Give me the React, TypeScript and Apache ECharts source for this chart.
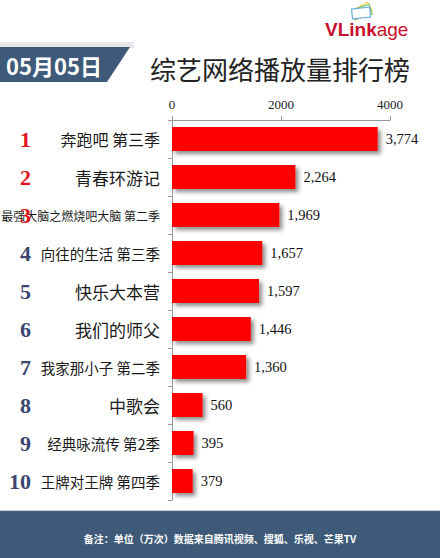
import React, { useEffect, useRef } from "react";
import * as echarts from "echarts";

const names = [
  "奔跑吧 第三季",
  "青春环游记",
  "最强大脑之燃烧吧大脑 第二季",
  "向往的生活 第三季",
  "快乐大本营",
  "我们的师父",
  "我家那小子 第二季",
  "中歌会",
  "经典咏流传 第2季",
  "王牌对王牌 第四季",
];
const nameSizes = [16, 17, 12, 14.5, 17, 17, 14.5, 17, 14.5, 14.5];
const ranks = ["1", "2", "3", "4", "5", "6", "7", "8", "9", "10"];
const values = [3774, 2264, 1969, 1657, 1597, 1446, 1360, 560, 395, 379];
const xTicks = { min: 0, max: 4000, interval: 2000 };

const title = "综艺网络播放量排行榜";
const dateText = "05月05日";
const note = "备注：单位（万次）数据来自腾讯视频、搜狐、乐视、芒果TV";

const NAVY = "#3e5a78";
const CJK = '"Noto Sans CJK SC", "Noto Sans", sans-serif';
const SERIF = '"Liberation Serif", "DejaVu Serif", serif';

export default function App() {
  const ref = useRef<HTMLDivElement>(null);
  useEffect(() => {
    if (!ref.current) return;
    const chart = echarts.init(ref.current, undefined, { renderer: "svg" });
    chart.setOption({
      animation: false,
      backgroundColor: "#ffffff",
      grid: {
        left: 172,
        top: 120,
        width: 218,
        height: 380,
        containLabel: false,
        outerBoundsMode: "none",
      },
      xAxis: {
        type: "value",
        position: "top",
        min: xTicks.min,
        max: xTicks.max,
        interval: xTicks.interval,
        axisLine: { show: true, lineStyle: { color: "#999" } },
        axisTick: { show: true, length: 4, lineStyle: { color: "#999" } },
        splitLine: { show: false },
        axisLabel: {
          color: "#222",
          fontFamily: SERIF,
          fontSize: 13,
          margin: 9,
          formatter: (v: number) => String(v),
        },
      },
      yAxis: [
        {
          type: "category",
          inverse: true,
          data: names.map((n, i) => ({ value: n, textStyle: { fontSize: nameSizes[i] } })),
          axisLine: { show: true, lineStyle: { color: "#999" } },
          axisTick: { show: true, length: 4, lineStyle: { color: "#999" } },
          axisLabel: { color: "#1a1a1a", fontFamily: CJK, margin: 12 },
        },
        {
          type: "category",
          inverse: true,
          position: "left",
          offset: 141,
          data: ranks.map((r, i) => ({
            value: r,
            textStyle: { color: i < 3 ? "#e0141e" : "#3a4670" },
          })),
          axisLine: { show: false },
          axisTick: { show: false },
          axisLabel: {
            align: "right",
            margin: 0,
            fontFamily: SERIF,
            fontWeight: "bold",
            fontSize: 22,
          },
        },
      ],
      series: [
        {
          type: "bar",
          yAxisIndex: 0,
          data: values,
          barWidth: 24,
          itemStyle: {
            color: "#ff0000",
            shadowColor: "rgba(0,0,0,0.45)",
            shadowBlur: 4,
            shadowOffsetX: 3,
            shadowOffsetY: 3,
          },
          label: {
            show: true,
            position: "right",
            distance: 8,
            color: "#111",
            fontFamily: SERIF,
            fontSize: 14.5,
            formatter: (p: any) => Number(p.value).toLocaleString("en-US"),
          },
        },
      ],
      graphic: [
        {
          type: "rect",
          shape: { x: 0, y: 42, width: 134, height: 6 },
          style: { fill: "#e4e6ea" },
        },
        {
          type: "polygon",
          shape: { points: [[0, 47], [130, 47], [107, 82], [0, 82]] },
          style: { fill: NAVY },
        },
        {
          type: "text",
          x: 54,
          y: 65,
          style: {
            text: dateText,
            fill: "#ffffff",
            font: `bold 22px ${CJK}`,
            align: "center",
            verticalAlign: "middle",
          },
        },
        {
          type: "text",
          x: 280,
          y: 68,
          style: {
            text: title,
            fill: "#222",
            font: `26px ${CJK}`,
            align: "center",
            verticalAlign: "middle",
          },
        },
        {
          type: "group",
          children: [
            {
              type: "rect",
              x: 362,
              y: 11,
              rotation: 0.5,
              shape: { x: -9, y: -5, width: 18, height: 10 },
              style: { fill: "#ffffff", stroke: "#e8d040", lineWidth: 1.2 },
            },
            {
              type: "rect",
              x: 362,
              y: 12,
              rotation: 0.3,
              shape: { x: -9, y: -5, width: 18, height: 10 },
              style: { fill: "#ffffff", stroke: "#7cc46a", lineWidth: 1.2 },
            },
            {
              type: "rect",
              x: 361,
              y: 13,
              rotation: 0.1,
              shape: { x: -9, y: -5, width: 18, height: 10 },
              style: { fill: "#ffffff", stroke: "#6ab0dc", lineWidth: 1.2 },
            },
          ],
        },
        {
          type: "text",
          x: 325,
          y: 29,
          style: {
            text: "{b|VLink}{n|age}",
            verticalAlign: "middle",
            rich: {
              b: { fill: "#c8102e", font: `bold 19px "Liberation Sans", Arial, sans-serif` },
              n: { fill: "#c8102e", font: `19px "Liberation Sans", Arial, sans-serif` },
            },
          },
        },
        {
          type: "rect",
          shape: { x: 0, y: 511, width: 440, height: 47 },
          style: { fill: NAVY },
        },
        {
          type: "rect",
          shape: { x: 0, y: 510, width: 440, height: 1 },
          style: { fill: "#c8d0da" },
        },
        {
          type: "text",
          x: 220,
          y: 538,
          style: {
            text: note,
            fill: "#ffffff",
            font: `bold 10px ${CJK}`,
            align: "center",
            verticalAlign: "middle",
          },
        },
      ],
    });
    return () => chart.dispose();
  }, []);
  return (
    <div
      ref={ref}
      style={{ position: "fixed", left: 0, top: 0, width: 440, height: 558 }}
    />
  );
}
